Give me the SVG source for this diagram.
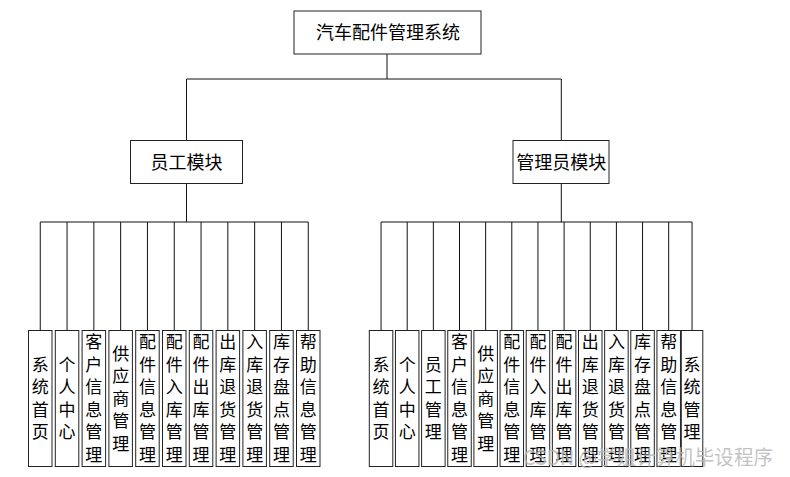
<svg xmlns="http://www.w3.org/2000/svg" width="790" height="477" viewBox="0 0 790 477">
<style>
.bx{fill:#fff;stroke:#222;stroke-width:1}
.ln{stroke:#111;stroke-width:1;fill:none}
.t{font-family:"Noto Sans CJK SC","Noto Sans",sans-serif;font-size:18px;fill:#000;text-anchor:middle}
.lf{font-family:"Noto Sans CJK SC","Noto Sans",sans-serif;font-size:17px;fill:#000;text-anchor:middle}
.wm{font-family:"Noto Sans CJK SC","Noto Sans",sans-serif;font-size:20px;fill:#b8b8b8;fill-opacity:0.85}
</style>
<rect width="790" height="477" fill="#fff"/>
<g id="connectors">
<path class="ln" d="M387,54V79M186.5,79H561.3M186.5,79V140.5M561.3,79V140.5"/>
<path class="ln" d="M186.5,183.5V222M40.25,222H308.25M40.25,222V330.5M67.05,222V330.5M93.85,222V330.5M120.65,222V330.5M147.45,222V330.5M174.25,222V330.5M201.05,222V330.5M227.85,222V330.5M254.65,222V330.5M281.45,222V330.5M308.25,222V330.5"/>
<path class="ln" d="M561.3,183.5V222M381.05,222H692.05M381.05,222V330.5M407.2,222V330.5M433.35,222V330.5M459.5,222V330.5M485.65,222V330.5M511.8,222V330.5M537.95,222V330.5M564.1,222V330.5M590.25,222V330.5M616.4,222V330.5M642.55,222V330.5M668.7,222V330.5M692.05,222V330.5"/>
</g>
<g id="root"><rect class="bx" x="294" y="11" width="187" height="43"/><text class="t" x="388" y="39">汽车配件管理系统</text></g>
<g id="staff"><rect class="bx" x="130.5" y="140.5" width="112" height="43"/><text class="t" x="186.5" y="168.5">员工模块</text></g>
<g id="admin"><rect class="bx" x="513" y="140.5" width="96" height="43"/><text class="t" x="561.3" y="168.5">管理员模块</text></g>

<g id="s1"><rect class="bx" x="28.5" y="330.5" width="23.5" height="136"/><text class="lf" y="370.9"><tspan x="40.25">系</tspan><tspan x="40.25" dy="22.5">统</tspan><tspan x="40.25" dy="22.5">首</tspan><tspan x="40.25" dy="22.5">页</tspan></text></g>
<g id="s2"><rect class="bx" x="55.3" y="330.5" width="23.5" height="136"/><text class="lf" y="370.9"><tspan x="67.05">个</tspan><tspan x="67.05" dy="22.5">人</tspan><tspan x="67.05" dy="22.5">中</tspan><tspan x="67.05" dy="22.5">心</tspan></text></g>
<g id="s3"><rect class="bx" x="82.1" y="330.5" width="23.5" height="136"/><text class="lf" y="348.4"><tspan x="93.85">客</tspan><tspan x="93.85" dy="22.5">户</tspan><tspan x="93.85" dy="22.5">信</tspan><tspan x="93.85" dy="22.5">息</tspan><tspan x="93.85" dy="22.5">管</tspan><tspan x="93.85" dy="22.5">理</tspan></text></g>
<g id="s4"><rect class="bx" x="108.9" y="330.5" width="23.5" height="136"/><text class="lf" y="359.6"><tspan x="120.65">供</tspan><tspan x="120.65" dy="22.5">应</tspan><tspan x="120.65" dy="22.5">商</tspan><tspan x="120.65" dy="22.5">管</tspan><tspan x="120.65" dy="22.5">理</tspan></text></g>
<g id="s5"><rect class="bx" x="135.7" y="330.5" width="23.5" height="136"/><text class="lf" y="348.4"><tspan x="147.45">配</tspan><tspan x="147.45" dy="22.5">件</tspan><tspan x="147.45" dy="22.5">信</tspan><tspan x="147.45" dy="22.5">息</tspan><tspan x="147.45" dy="22.5">管</tspan><tspan x="147.45" dy="22.5">理</tspan></text></g>
<g id="s6"><rect class="bx" x="162.5" y="330.5" width="23.5" height="136"/><text class="lf" y="348.4"><tspan x="174.25">配</tspan><tspan x="174.25" dy="22.5">件</tspan><tspan x="174.25" dy="22.5">入</tspan><tspan x="174.25" dy="22.5">库</tspan><tspan x="174.25" dy="22.5">管</tspan><tspan x="174.25" dy="22.5">理</tspan></text></g>
<g id="s7"><rect class="bx" x="189.3" y="330.5" width="23.5" height="136"/><text class="lf" y="348.4"><tspan x="201.05">配</tspan><tspan x="201.05" dy="22.5">件</tspan><tspan x="201.05" dy="22.5">出</tspan><tspan x="201.05" dy="22.5">库</tspan><tspan x="201.05" dy="22.5">管</tspan><tspan x="201.05" dy="22.5">理</tspan></text></g>
<g id="s8"><rect class="bx" x="216.1" y="330.5" width="23.5" height="136"/><text class="lf" y="348.4"><tspan x="227.85">出</tspan><tspan x="227.85" dy="22.5">库</tspan><tspan x="227.85" dy="22.5">退</tspan><tspan x="227.85" dy="22.5">货</tspan><tspan x="227.85" dy="22.5">管</tspan><tspan x="227.85" dy="22.5">理</tspan></text></g>
<g id="s9"><rect class="bx" x="242.9" y="330.5" width="23.5" height="136"/><text class="lf" y="348.4"><tspan x="254.65">入</tspan><tspan x="254.65" dy="22.5">库</tspan><tspan x="254.65" dy="22.5">退</tspan><tspan x="254.65" dy="22.5">货</tspan><tspan x="254.65" dy="22.5">管</tspan><tspan x="254.65" dy="22.5">理</tspan></text></g>
<g id="s10"><rect class="bx" x="269.7" y="330.5" width="23.5" height="136"/><text class="lf" y="348.4"><tspan x="281.45">库</tspan><tspan x="281.45" dy="22.5">存</tspan><tspan x="281.45" dy="22.5">盘</tspan><tspan x="281.45" dy="22.5">点</tspan><tspan x="281.45" dy="22.5">管</tspan><tspan x="281.45" dy="22.5">理</tspan></text></g>
<g id="s11"><rect class="bx" x="296.5" y="330.5" width="23.5" height="136"/><text class="lf" y="348.4"><tspan x="308.25">帮</tspan><tspan x="308.25" dy="22.5">助</tspan><tspan x="308.25" dy="22.5">信</tspan><tspan x="308.25" dy="22.5">息</tspan><tspan x="308.25" dy="22.5">管</tspan><tspan x="308.25" dy="22.5">理</tspan></text></g>

<g id="a1"><rect class="bx" x="369.3" y="330.5" width="23.5" height="136"/><text class="lf" y="370.9"><tspan x="381.05">系</tspan><tspan x="381.05" dy="22.5">统</tspan><tspan x="381.05" dy="22.5">首</tspan><tspan x="381.05" dy="22.5">页</tspan></text></g>
<g id="a2"><rect class="bx" x="395.45" y="330.5" width="23.5" height="136"/><text class="lf" y="370.9"><tspan x="407.2">个</tspan><tspan x="407.2" dy="22.5">人</tspan><tspan x="407.2" dy="22.5">中</tspan><tspan x="407.2" dy="22.5">心</tspan></text></g>
<g id="a3"><rect class="bx" x="421.6" y="330.5" width="23.5" height="136"/><text class="lf" y="370.9"><tspan x="433.35">员</tspan><tspan x="433.35" dy="22.5">工</tspan><tspan x="433.35" dy="22.5">管</tspan><tspan x="433.35" dy="22.5">理</tspan></text></g>
<g id="a4"><rect class="bx" x="447.75" y="330.5" width="23.5" height="136"/><text class="lf" y="348.4"><tspan x="459.5">客</tspan><tspan x="459.5" dy="22.5">户</tspan><tspan x="459.5" dy="22.5">信</tspan><tspan x="459.5" dy="22.5">息</tspan><tspan x="459.5" dy="22.5">管</tspan><tspan x="459.5" dy="22.5">理</tspan></text></g>
<g id="a5"><rect class="bx" x="473.9" y="330.5" width="23.5" height="136"/><text class="lf" y="359.6"><tspan x="485.65">供</tspan><tspan x="485.65" dy="22.5">应</tspan><tspan x="485.65" dy="22.5">商</tspan><tspan x="485.65" dy="22.5">管</tspan><tspan x="485.65" dy="22.5">理</tspan></text></g>
<g id="a6"><rect class="bx" x="500.05" y="330.5" width="23.5" height="136"/><text class="lf" y="348.4"><tspan x="511.8">配</tspan><tspan x="511.8" dy="22.5">件</tspan><tspan x="511.8" dy="22.5">信</tspan><tspan x="511.8" dy="22.5">息</tspan><tspan x="511.8" dy="22.5">管</tspan><tspan x="511.8" dy="22.5">理</tspan></text></g>
<g id="a7"><rect class="bx" x="526.2" y="330.5" width="23.5" height="136"/><text class="lf" y="348.4"><tspan x="537.95">配</tspan><tspan x="537.95" dy="22.5">件</tspan><tspan x="537.95" dy="22.5">入</tspan><tspan x="537.95" dy="22.5">库</tspan><tspan x="537.95" dy="22.5">管</tspan><tspan x="537.95" dy="22.5">理</tspan></text></g>
<g id="a8"><rect class="bx" x="552.35" y="330.5" width="23.5" height="136"/><text class="lf" y="348.4"><tspan x="564.1">配</tspan><tspan x="564.1" dy="22.5">件</tspan><tspan x="564.1" dy="22.5">出</tspan><tspan x="564.1" dy="22.5">库</tspan><tspan x="564.1" dy="22.5">管</tspan><tspan x="564.1" dy="22.5">理</tspan></text></g>
<g id="a9"><rect class="bx" x="578.5" y="330.5" width="23.5" height="136"/><text class="lf" y="348.4"><tspan x="590.25">出</tspan><tspan x="590.25" dy="22.5">库</tspan><tspan x="590.25" dy="22.5">退</tspan><tspan x="590.25" dy="22.5">货</tspan><tspan x="590.25" dy="22.5">管</tspan><tspan x="590.25" dy="22.5">理</tspan></text></g>
<g id="a10"><rect class="bx" x="604.65" y="330.5" width="23.5" height="136"/><text class="lf" y="348.4"><tspan x="616.4">入</tspan><tspan x="616.4" dy="22.5">库</tspan><tspan x="616.4" dy="22.5">退</tspan><tspan x="616.4" dy="22.5">货</tspan><tspan x="616.4" dy="22.5">管</tspan><tspan x="616.4" dy="22.5">理</tspan></text></g>
<g id="a11"><rect class="bx" x="630.8" y="330.5" width="23.5" height="136"/><text class="lf" y="348.4"><tspan x="642.55">库</tspan><tspan x="642.55" dy="22.5">存</tspan><tspan x="642.55" dy="22.5">盘</tspan><tspan x="642.55" dy="22.5">点</tspan><tspan x="642.55" dy="22.5">管</tspan><tspan x="642.55" dy="22.5">理</tspan></text></g>
<g id="a12"><rect class="bx" x="656.95" y="330.5" width="23.5" height="136"/><text class="lf" y="348.4"><tspan x="668.7">帮</tspan><tspan x="668.7" dy="22.5">助</tspan><tspan x="668.7" dy="22.5">信</tspan><tspan x="668.7" dy="22.5">息</tspan><tspan x="668.7" dy="22.5">管</tspan><tspan x="668.7" dy="22.5">理</tspan></text></g>
<g id="a13"><rect class="bx" x="681.3" y="330.5" width="21.5" height="136"/><text class="lf" y="370.9"><tspan x="692.05">系</tspan><tspan x="692.05" dy="22.5">统</tspan><tspan x="692.05" dy="22.5">管</tspan><tspan x="692.05" dy="22.5">理</tspan></text></g>

<text class="wm" x="523" y="465" textLength="250" lengthAdjust="spacingAndGlyphs">CSDN @学姐计算机毕设程序</text>
</svg>
